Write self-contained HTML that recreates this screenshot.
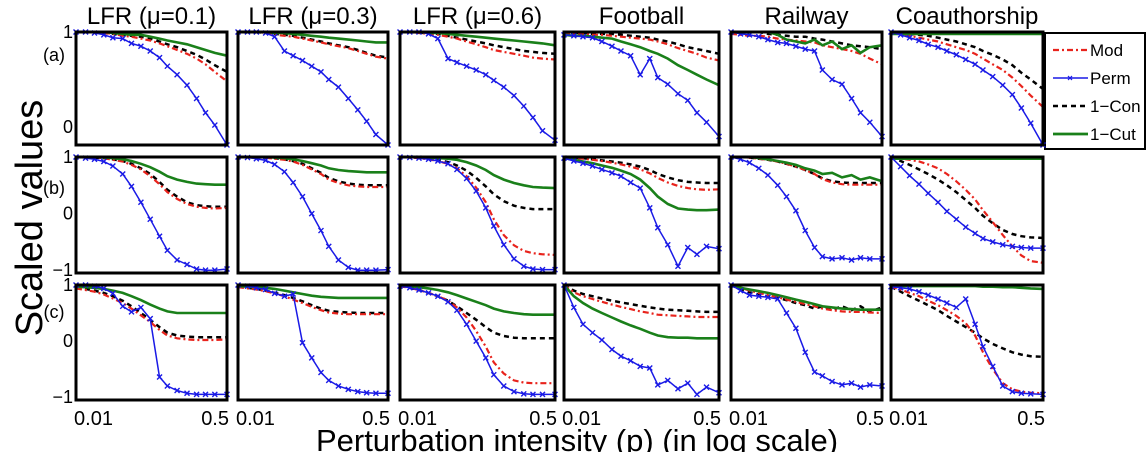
<!DOCTYPE html>
<html><head><meta charset="utf-8"><style>
html,body{margin:0;padding:0;background:#fff;}
svg{display:block;font-family:"Liberation Sans",sans-serif;}
</style></head><body>
<svg id="chart" width="1148" height="452" viewBox="0 0 1148 452" xmlns="http://www.w3.org/2000/svg">
<text x="0" y="0" font-size="38" text-anchor="middle" transform="translate(42,218) rotate(-90)">Scaled values</text>
<text x="577" y="451" font-size="31" text-anchor="middle">Perturbation intensity (p) (in log scale)</text>
<g>
<rect x="1045" y="33" width="100" height="116" fill="#fff" stroke="#000" stroke-width="2"/>
<line x1="1053" y1="50" x2="1088" y2="50" stroke="#e8231c" stroke-width="2.2" stroke-dasharray="6,3,2,3"/>
<text x="1090" y="56" font-size="17">Mod</text>
<line x1="1053" y1="78" x2="1088" y2="78" stroke="#1a1ae6" stroke-width="1.5"/>
<path d="M1068,76 L1072,80 M1068,80 L1072,76" stroke="#1a1ae6" stroke-width="1.2"/>
<text x="1090" y="84" font-size="17">Perm</text>
<line x1="1053" y1="106" x2="1088" y2="106" stroke="#000" stroke-width="2.5" stroke-dasharray="5,4"/>
<text x="1090" y="112" font-size="17">1−Con</text>
<line x1="1053" y1="134" x2="1088" y2="134" stroke="#1a801a" stroke-width="2.8"/>
<text x="1090" y="140" font-size="17">1−Cut</text>
</g>
</svg>
<script>
const pValues=[0.0085,0.011,0.014,0.018,0.023,0.03,0.038,0.049,0.063,0.081,0.10,0.13,0.17,0.22,0.28,0.36,0.5];
const columnTitles=["LFR (\u03bc=0.1)","LFR (\u03bc=0.3)","LFR (\u03bc=0.6)","Football","Railway","Coauthorship"];
const rowLabels=["(a)","(b)","(c)"];
const xTickValues=[0.01,0.5];
const xTickLabels=["0.01","0.5"];
// row a
const modA=[
[1,1,1,0.99,0.98,0.96,0.95,0.93,0.91,0.88,0.85,0.81,0.77,0.72,0.66,0.58,0.48],
[1,1,1,0.99,0.97,0.96,0.95,0.93,0.91,0.89,0.87,0.85,0.83,0.8,0.77,0.74,0.72],
[1,1,0.99,0.98,0.97,0.95,0.93,0.9,0.87,0.84,0.81,0.79,0.77,0.75,0.73,0.72,0.71],
[0.98,0.98,0.98,0.97,0.97,0.96,0.95,0.94,0.93,0.92,0.9,0.87,0.83,0.8,0.77,0.73,0.7],
[0.98,0.97,0.96,0.96,0.95,0.93,0.92,0.91,0.9,0.89,0.86,0.84,0.82,0.8,0.77,0.72,0.66],
[1,0.98,0.96,0.94,0.92,0.9,0.87,0.84,0.81,0.77,0.72,0.66,0.6,0.52,0.43,0.33,0.21]];
const permA=[
[1,1,0.99,0.97,0.94,0.93,0.88,0.85,0.8,0.73,0.64,0.55,0.44,0.3,0.15,0.02,-0.19],
[1,1,1,0.99,0.95,0.8,0.75,0.7,0.64,0.58,0.5,0.42,0.3,0.18,0.06,-0.08,-0.19],
[1,1,1,0.98,0.93,0.72,0.68,0.64,0.6,0.55,0.49,0.42,0.33,0.22,0.1,-0.04,-0.14],
[0.97,0.96,0.95,0.94,0.9,0.85,0.8,0.75,0.55,0.72,0.52,0.45,0.35,0.28,0.15,0.05,-0.1],
[1,0.98,0.97,0.95,0.92,0.89,0.88,0.85,0.82,0.8,0.6,0.5,0.45,0.3,0.15,0.05,-0.1],
[1,0.97,0.94,0.91,0.87,0.84,0.8,0.76,0.71,0.66,0.6,0.53,0.44,0.34,0.2,0.04,-0.19]];
const conA=[
[1,1,1,0.99,0.98,0.97,0.96,0.95,0.93,0.9,0.87,0.84,0.8,0.76,0.71,0.65,0.58],
[1,1,1,0.99,0.98,0.97,0.96,0.94,0.92,0.9,0.88,0.86,0.84,0.81,0.78,0.75,0.73],
[1,1,0.99,0.99,0.98,0.96,0.94,0.92,0.9,0.88,0.86,0.84,0.82,0.8,0.79,0.78,0.77],
[0.99,0.99,0.99,0.98,0.98,0.98,0.97,0.96,0.95,0.94,0.92,0.9,0.87,0.84,0.82,0.8,0.77],
[1,1,1,1,0.98,0.97,0.96,0.95,0.95,0.93,0.92,0.9,0.88,0.86,0.85,0.84,0.82],
[1,0.99,0.98,0.97,0.96,0.94,0.92,0.9,0.87,0.84,0.8,0.76,0.71,0.65,0.57,0.5,0.4]];
const cutA=[
[1,1,1,1,0.99,0.98,0.97,0.97,0.95,0.93,0.91,0.89,0.87,0.84,0.81,0.78,0.75],
[1,1,1,1,0.99,0.99,0.98,0.97,0.96,0.95,0.94,0.93,0.92,0.91,0.9,0.89,0.89],
[1,1,1,0.99,0.99,0.98,0.97,0.96,0.95,0.94,0.93,0.92,0.91,0.9,0.89,0.88,0.86],
[0.97,0.96,0.96,0.95,0.94,0.93,0.9,0.87,0.84,0.8,0.77,0.72,0.65,0.6,0.55,0.5,0.44],
[1,1,1,1,1,0.97,0.92,0.9,0.88,0.92,0.86,0.9,0.82,0.86,0.78,0.84,0.86],
[0.98,0.98,0.98,0.98,0.98,0.98,0.98,0.98,0.98,0.98,0.98,0.98,0.98,0.98,0.98,0.98,0.98]];
// row b
const modB=[
[1,1,0.99,0.98,0.95,0.92,0.86,0.78,0.66,0.52,0.38,0.26,0.17,0.12,0.1,0.09,0.1],
[1,1,1,0.99,0.97,0.95,0.92,0.86,0.78,0.7,0.6,0.54,0.5,0.48,0.47,0.47,0.47],
[1,0.99,0.98,0.96,0.93,0.88,0.8,0.66,0.46,0.2,-0.1,-0.38,-0.56,-0.66,-0.7,-0.72,-0.73],
[1,0.98,0.97,0.95,0.93,0.9,0.87,0.83,0.78,0.71,0.63,0.55,0.49,0.45,0.43,0.42,0.43],
[1,1,0.99,0.97,0.95,0.92,0.88,0.83,0.77,0.7,0.61,0.55,0.52,0.51,0.51,0.51,0.51],
[1,0.97,0.95,0.92,0.87,0.8,0.7,0.57,0.42,0.25,0.06,-0.15,-0.38,-0.58,-0.74,-0.84,-0.87]];
const permB=[
[1,0.98,0.96,0.92,0.84,0.7,0.48,0.2,-0.1,-0.4,-0.65,-0.82,-0.9,-0.98,-1,-1,-0.98],
[1,0.99,0.97,0.94,0.87,0.74,0.55,0.3,0,-0.3,-0.58,-0.82,-0.95,-1,-1,-1,-0.99],
[1,0.99,0.98,0.96,0.93,0.88,0.78,0.62,0.4,0.1,-0.22,-0.55,-0.8,-0.93,-0.98,-0.99,-0.99],
[0.98,0.93,0.89,0.84,0.78,0.72,0.66,0.55,0.45,0.1,-0.25,-0.55,-0.93,-0.6,-0.72,-0.58,-0.62],
[1,0.96,0.9,0.8,0.68,0.5,0.3,0.05,-0.3,-0.6,-0.76,-0.8,-0.78,-0.82,-0.78,-0.8,-0.8],
[1,0.83,0.67,0.52,0.36,0.2,0.04,-0.1,-0.24,-0.35,-0.44,-0.5,-0.55,-0.58,-0.6,-0.61,-0.61]];
const conB=[
[1,1,0.99,0.98,0.96,0.93,0.88,0.8,0.7,0.56,0.42,0.3,0.2,0.15,0.13,0.12,0.12],
[1,1,1,0.99,0.98,0.96,0.93,0.88,0.8,0.72,0.63,0.57,0.53,0.51,0.5,0.5,0.5],
[1,1,0.99,0.97,0.95,0.91,0.85,0.76,0.63,0.48,0.34,0.22,0.14,0.1,0.08,0.08,0.08],
[1,0.99,0.98,0.96,0.94,0.92,0.9,0.87,0.83,0.77,0.7,0.64,0.59,0.56,0.55,0.54,0.54],
[1,1,0.99,0.97,0.95,0.92,0.88,0.83,0.77,0.7,0.62,0.57,0.55,0.54,0.54,0.54,0.54],
[1,0.93,0.86,0.78,0.7,0.6,0.5,0.38,0.24,0.1,-0.04,-0.17,-0.29,-0.36,-0.4,-0.42,-0.43]];
const cutB=[
[1,1,1,0.99,0.98,0.96,0.93,0.88,0.82,0.74,0.66,0.6,0.56,0.53,0.52,0.51,0.51],
[1,1,1,1,0.99,0.98,0.96,0.93,0.89,0.85,0.8,0.77,0.75,0.74,0.73,0.73,0.73],
[1,1,1,0.99,0.98,0.97,0.95,0.91,0.85,0.77,0.68,0.6,0.54,0.5,0.47,0.46,0.45],
[0.98,0.95,0.92,0.89,0.85,0.81,0.76,0.7,0.6,0.45,0.3,0.17,0.09,0.07,0.06,0.06,0.07],
[1,1,1,0.98,0.96,0.93,0.9,0.86,0.8,0.76,0.7,0.72,0.64,0.68,0.6,0.64,0.57],
[0.97,0.97,0.97,0.97,0.97,0.97,0.97,0.97,0.97,0.97,0.97,0.97,0.97,0.97,0.97,0.97,0.97]];
// row c
const modC=[
[0.94,0.91,0.88,0.83,0.76,0.68,0.58,0.46,0.34,0.2,0.1,0.05,0.03,0.02,0.02,0.02,0.03],
[0.96,0.94,0.92,0.89,0.85,0.8,0.74,0.68,0.61,0.55,0.51,0.49,0.48,0.48,0.48,0.48,0.48],
[0.98,0.95,0.91,0.86,0.8,0.72,0.6,0.42,0.18,-0.1,-0.38,-0.58,-0.7,-0.74,-0.75,-0.75,-0.75],
[1,0.87,0.8,0.75,0.7,0.65,0.61,0.57,0.53,0.5,0.47,0.46,0.45,0.44,0.43,0.43,0.43],
[1,0.95,0.9,0.86,0.82,0.78,0.74,0.7,0.66,0.62,0.58,0.55,0.53,0.52,0.52,0.51,0.5],
[0.97,0.92,0.86,0.8,0.72,0.64,0.55,0.45,0.32,0.1,-0.2,-0.5,-0.75,-0.86,-0.9,-0.92,-0.93]];
const permC=[
[1,1,0.98,0.94,0.85,0.62,0.52,0.6,0.4,-0.64,-0.8,-0.88,-0.93,-0.95,-0.95,-0.95,-0.95],
[1,0.98,0.95,0.92,0.85,0.8,0.84,-0.03,-0.3,-0.56,-0.7,-0.8,-0.86,-0.9,-0.92,-0.93,-0.93],
[0.98,0.95,0.91,0.86,0.8,0.7,0.55,0.3,0,-0.3,-0.6,-0.8,-0.9,-0.94,-0.95,-0.95,-0.95],
[1,0.6,0.3,0.15,0.02,-0.15,-0.27,-0.35,-0.45,-0.48,-0.78,-0.7,-0.85,-0.75,-0.95,-0.82,-0.92],
[1,0.9,0.82,0.8,0.78,0.75,0.5,0.23,-0.2,-0.55,-0.62,-0.72,-0.78,-0.75,-0.82,-0.78,-0.8],
[0.97,0.95,0.93,0.88,0.82,0.75,0.68,0.6,0.75,0.3,-0.1,-0.45,-0.8,-0.9,-0.93,-0.94,-0.95]];
const conC=[
[0.95,0.93,0.9,0.86,0.8,0.72,0.62,0.5,0.38,0.25,0.15,0.1,0.08,0.07,0.07,0.07,0.07],
[0.97,0.95,0.93,0.9,0.86,0.82,0.77,0.71,0.64,0.58,0.54,0.52,0.51,0.5,0.5,0.5,0.5],
[0.98,0.95,0.91,0.86,0.8,0.72,0.62,0.5,0.38,0.25,0.15,0.09,0.06,0.05,0.05,0.05,0.05],
[1,0.9,0.84,0.8,0.76,0.72,0.69,0.66,0.63,0.6,0.58,0.56,0.55,0.54,0.53,0.52,0.52],
[1,0.92,0.87,0.83,0.8,0.77,0.73,0.68,0.64,0.58,0.62,0.56,0.62,0.55,0.62,0.52,0.6],
[0.97,0.88,0.8,0.72,0.64,0.55,0.45,0.35,0.25,0.15,0.05,-0.05,-0.13,-0.2,-0.24,-0.27,-0.28]];
const cutC=[
[0.97,0.96,0.95,0.93,0.9,0.86,0.8,0.73,0.65,0.58,0.53,0.5,0.5,0.5,0.5,0.5,0.5],
[0.98,0.97,0.96,0.95,0.93,0.9,0.87,0.84,0.81,0.79,0.78,0.77,0.77,0.77,0.77,0.77,0.77],
[1,0.98,0.96,0.94,0.91,0.87,0.82,0.76,0.7,0.64,0.58,0.53,0.5,0.48,0.47,0.47,0.47],
[1,0.8,0.68,0.58,0.5,0.42,0.35,0.28,0.22,0.15,0.1,0.07,0.06,0.06,0.05,0.05,0.05],
[1,0.95,0.92,0.89,0.86,0.82,0.78,0.74,0.7,0.66,0.62,0.6,0.58,0.57,0.56,0.56,0.56],
[0.98,0.98,0.98,0.98,0.98,0.98,0.98,0.98,0.98,0.98,0.97,0.97,0.96,0.96,0.95,0.94,0.93]];

const NS="http://www.w3.org/2000/svg";
const svg=document.getElementById("chart");
const colX=[[76,227],[238,388],[400,555],[564,719],[731,882],[891,1043]];
const rowY=[[32,145],[157,273],[285,400]];
const rowDom=[[1,-0.19],[1,-1.05],[1,-1.05]];
const rowTicks=[[1,0],[1,0,-1],[1,0,-1]];
const rows=[[modA,permA,conA,cutA],[modB,permB,conB,cutB],[modC,permC,conC,cutC]];
const styles=[
{c:"#e8231c",w:2.2,d:"6,3,2,3",n:"mod"},
{c:"#1a1ae6",w:1.5,d:null,n:"perm"},
{c:"#000",w:2.5,d:"5,4",n:"con"},
{c:"#1a801a",w:2.6,d:null,n:"cut"}];
const lx0=Math.log(0.0085),lx1=Math.log(0.5);
function mk(t,a){const e=document.createElementNS(NS,t);for(const k in a)e.setAttribute(k,a[k]);svg.appendChild(e);return e;}
for(let c=0;c<6;c++){
  const t=mk("text",{x:(colX[c][0]+colX[c][1])/2,y:24,"font-size":24,"text-anchor":"middle"});
  t.textContent=columnTitles[c];
  
  
}
for(let r=0;r<3;r++){
  const [y0,y1]=rowY[r];const [d0,d1]=rowDom[r];
  const ys=v=>y0+(d0-v)/(d0-d1)*(y1-y0);
  const rl=mk("text",{x:54,y:(r==0?61:r==1?194:318),"font-size":18,"text-anchor":"middle"});
  rl.textContent=rowLabels[r];
  
  
  for(const tv of rowTicks[r]){
    const tt=mk("text",{x:73,y:ys(tv)+6,"font-size":18,"text-anchor":"end"});
    tt.textContent=tv<0?"\u2212"+Math.abs(tv):String(tv);
    
    
  }
  for(let c=0;c<6;c++){
    const [x0,x1]=colX[c];
    const xs=p=>x0+(Math.log(p)-lx0)/(lx1-lx0)*(x1-x0);
    const g=document.createElementNS(NS,"g");svg.appendChild(g);
    
    
    const order=[2,0,3,1];
    for(const s of order){
      const vals=rows[r][s][c];const st=styles[s];
      const pts=vals.map((v,i)=>xs(pValues[i]).toFixed(1)+","+ys(v).toFixed(1)).join(" ");
      const pl=document.createElementNS(NS,"polyline");
      pl.setAttribute("points",pts);pl.setAttribute("fill","none");
      pl.setAttribute("stroke",st.c);pl.setAttribute("stroke-width",st.w);
      if(st.d)pl.setAttribute("stroke-dasharray",st.d);
      
      
      g.appendChild(pl);
      if(s===1){
        vals.forEach((v,i)=>{
          const x=xs(pValues[i]),y=ys(v);
          const m=document.createElementNS(NS,"path");
          m.setAttribute("d",`M${x-2.5},${y-2.5}L${x+2.5},${y+2.5}M${x-2.5},${y+2.5}L${x+2.5},${y-2.5}`);
          m.setAttribute("stroke",st.c);m.setAttribute("stroke-width",1.4);
          
          
          g.appendChild(m);
        });
      }
    }
    const box=document.createElementNS(NS,"rect");
    box.setAttribute("x",x0);box.setAttribute("y",y0);box.setAttribute("width",x1-x0);box.setAttribute("height",y1-y0);
    box.setAttribute("fill","none");box.setAttribute("stroke","#000");box.setAttribute("stroke-width",3);
    
    
    g.appendChild(box);
    if(r===2){
      xTickValues.forEach((tv,i)=>{
        const tx=mk("text",{x:i==0?xs(tv)-8:x1+2,y:425,"font-size":20,"text-anchor":i==0?"start":"end"});
        tx.textContent=xTickLabels[i];
        
        
      });
    }
  }
}
</script>
</body></html>
